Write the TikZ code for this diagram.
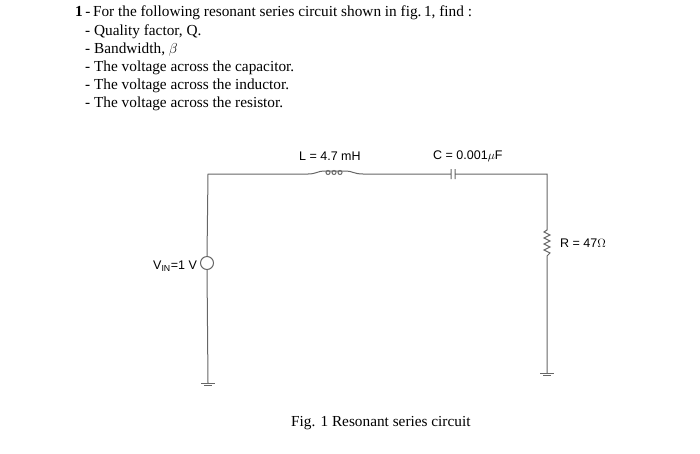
\documentclass[tikz,border=0pt]{standalone}
\usepackage{fontspec}
\setmainfont{Liberation Serif}
\newfontfamily\lsans{Liberation Sans}
\begin{document}
\begin{tikzpicture}[x=1pt,y=-1pt,
 wire/.style={draw=black!60,line width=1pt},
 lab/.style={font=\lsans\fontsize{12.5}{14}\selectfont,anchor=west,inner sep=0},
 txt/.style={font=\fontsize{15.3}{17}\selectfont,anchor=west,inner sep=0}]
\useasboundingbox (0,0) rectangle (700,453);
\node[txt] (t1) at (75,13) {\textbf{1}\,-\,For the following resonant series circuit shown in fig.\,1, find :};
\node[txt] (t2) at (85,32) {- Quality factor, Q.};
\node[txt] (t3) at (85,50) {- Bandwidth, $\beta$};
\node[txt] (t4) at (85,68) {- The voltage across the capacitor.};
\node[txt] (t5) at (85,86) {- The voltage across the inductor.};
\node[txt] (t6) at (85,104) {- The voltage across the resistor.};
\coordinate (tl) at (208,174);
\coordinate (tr) at (547,174);
\coordinate (l1) at (308,174);
\coordinate (l2) at (363,174);
\coordinate (c1) at (451,174);
\coordinate (c2) at (455,174);
\node[circle,wire,minimum size=13pt,inner sep=0] (src) at (207,263) {};
\coordinate (r1) at (547,230);
\coordinate (r2) at (547,256);
\coordinate (gl) at (208,383);
\coordinate (gr) at (547,373);
\draw[wire] (src.north) -- (tl) -- (l1);
\draw[wire] (l1) .. controls (316,174) and (318,171) .. (324,171) -- (346,171) .. controls (352,171) and (354,174) .. (l2);
\foreach \cx in {328,334,340} \draw[wire] (\cx,172.5) circle[radius=2pt];
\draw[wire] (l2) -- (c1) (c1)++(0,-5) -- ++(0,10) (c2)++(0,-5) -- ++(0,10) (c2) -- (tr) -- (r1)
  -- ++(-3,2) -- ++(6,3) -- ++(-6,3) -- ++(6,3) -- ++(-6,3) -- ++(6,3) -- ++(-6,3) -- ++(6,3) -- (r2) -- (gr);
\draw[wire] (src.south) -- (gl);
\draw[wire] (gl)++(-7,0) -- ++(14,0) ++(-11,2.5) -- ++(8,0);
\draw[wire] (gr)++(-7,0) -- ++(14,0) ++(-11,2.5) -- ++(8,0);
\node[lab] (lL) at (299,156) {L = 4.7 mH};
\node[lab] (lC) at (433,156) {C = 0.001$\mu$F};
\node[lab] (lR) at (560,243) {R = 47$\Omega$};
\node[lab] (lV) at (153,266) {V\textsubscript{IN}=1 V};
\node[font=\fontsize{15.3}{17}\selectfont,anchor=west,inner sep=0] (cap) at (291,423) {Fig. 1 Resonant series circuit};
\end{tikzpicture}
\end{document}
